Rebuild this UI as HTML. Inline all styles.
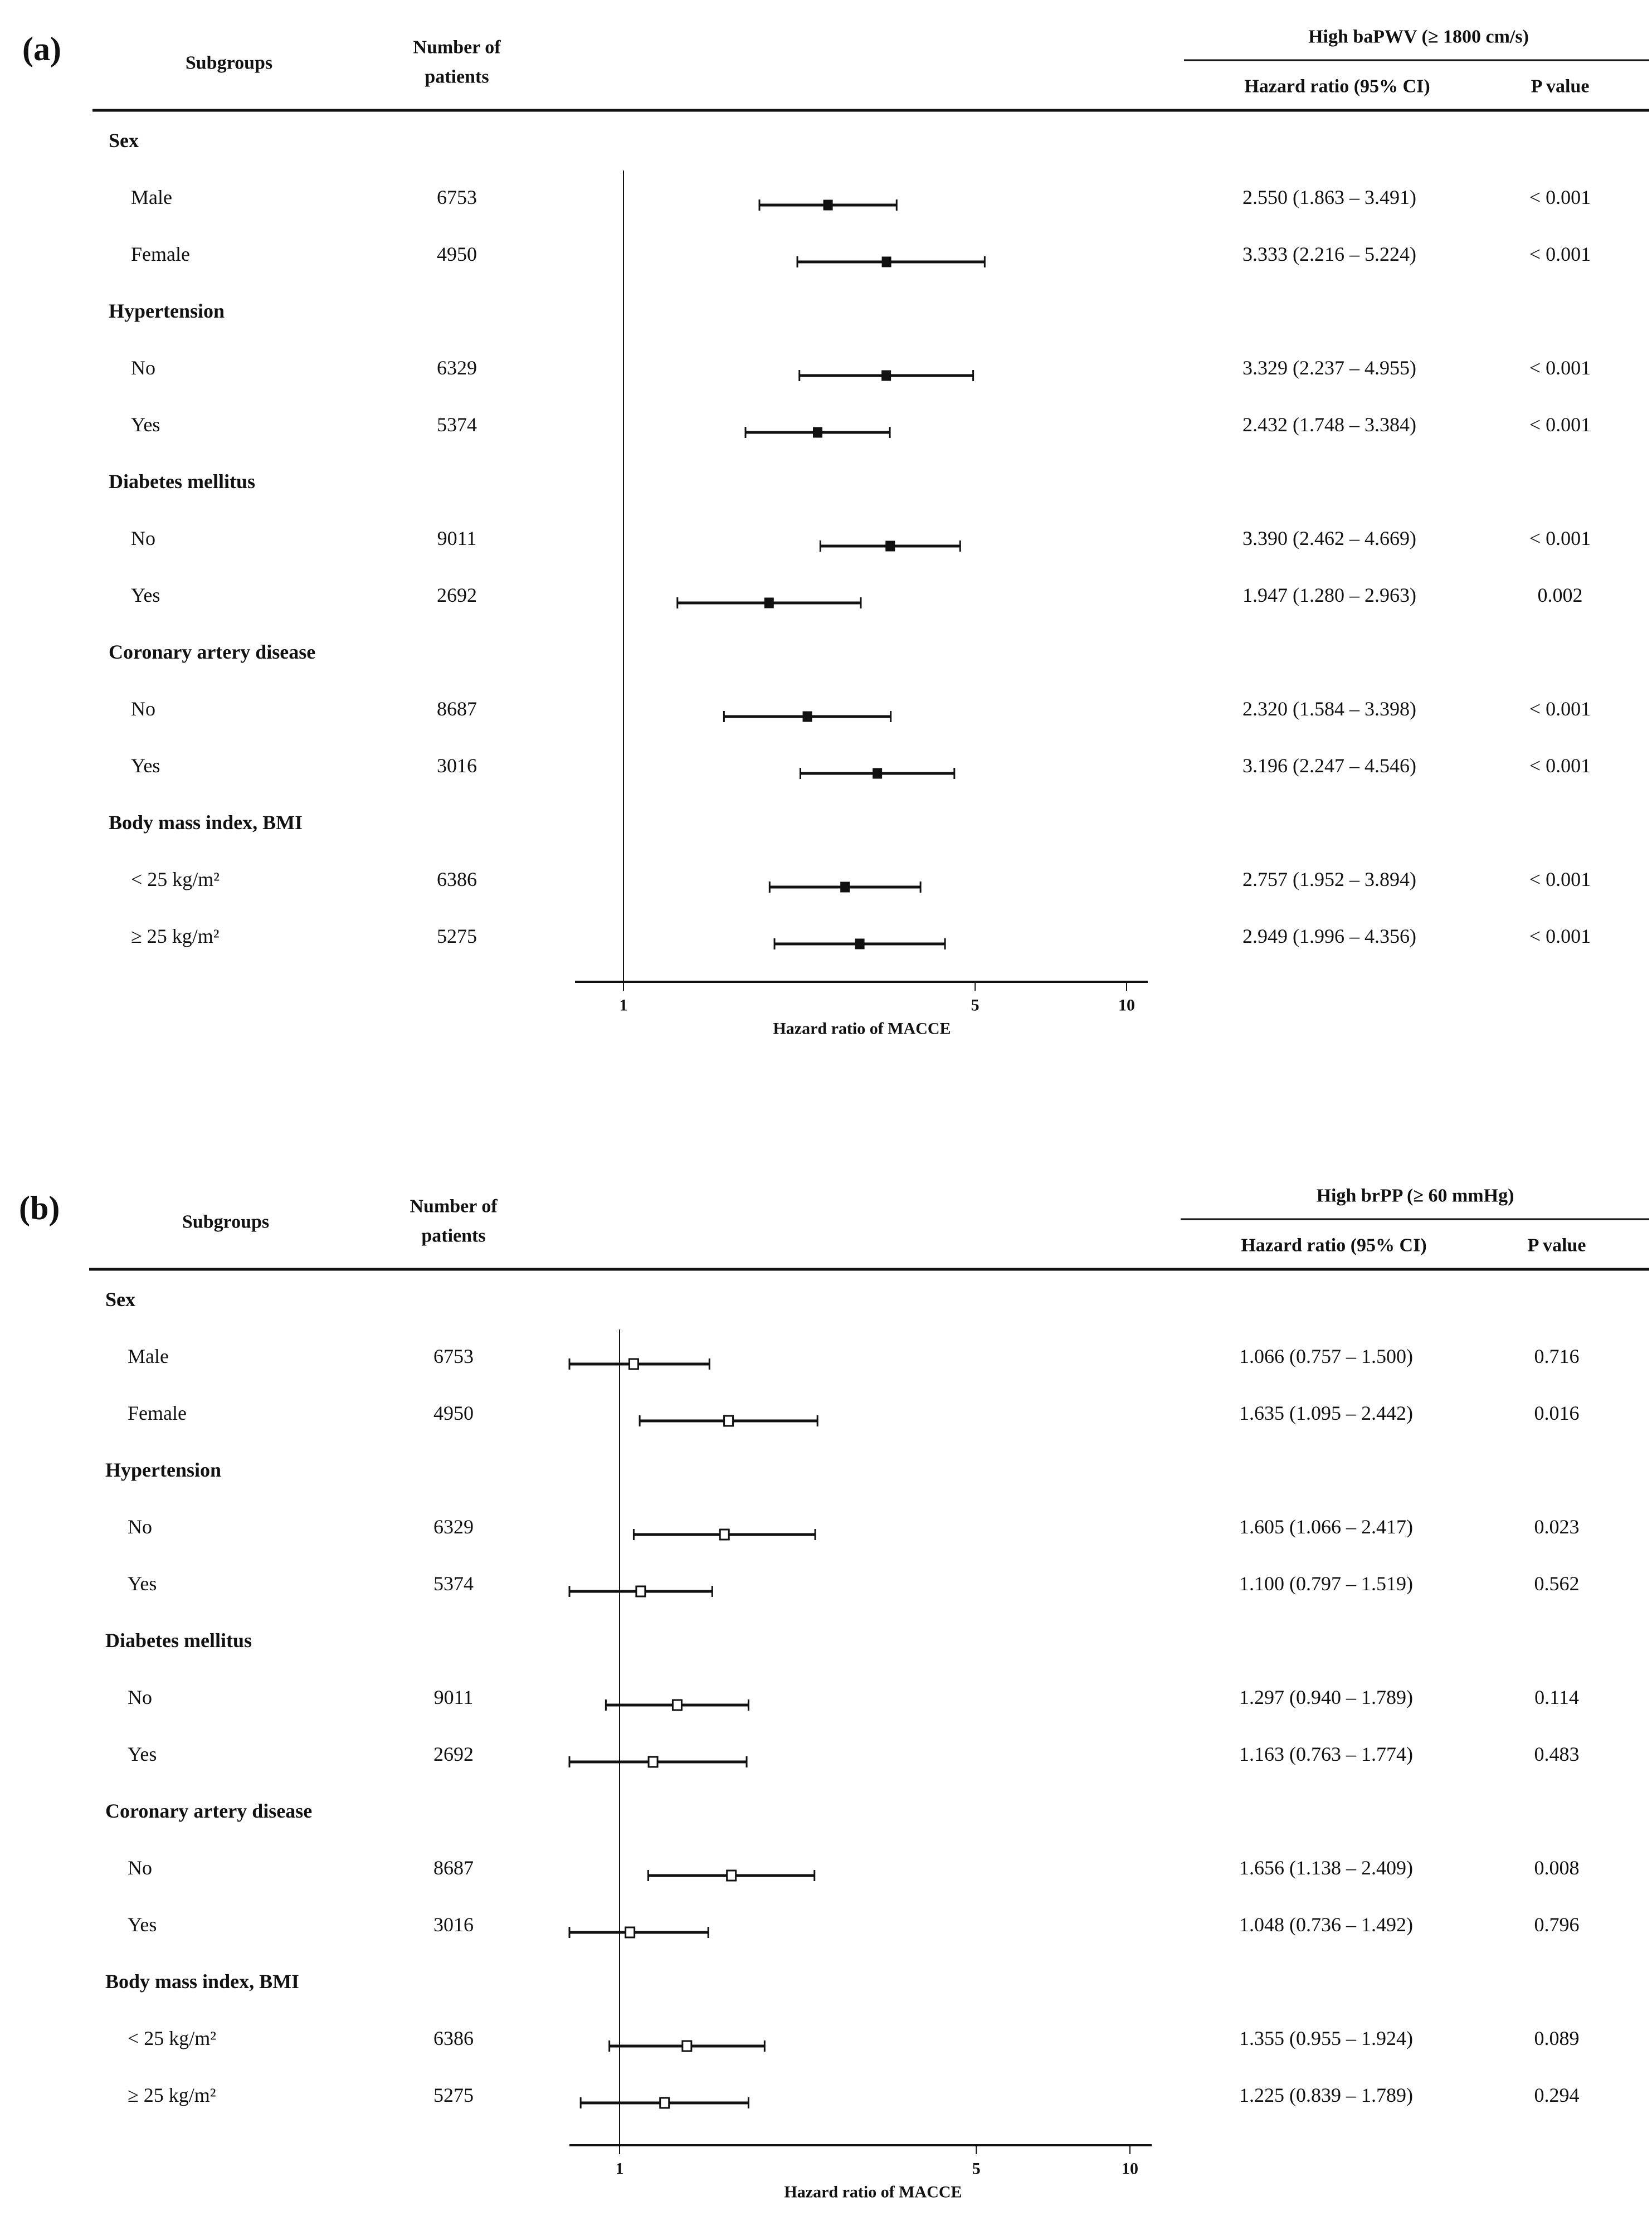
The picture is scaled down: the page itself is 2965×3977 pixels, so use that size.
<!DOCTYPE html>
<html><head><meta charset="utf-8"><style>
html,body{margin:0;padding:0;background:#fff}
svg{display:block}
text{font-family:"Liberation Serif","Times New Roman",serif;fill:#111}
.b{font-weight:bold}
</style></head><body>
<svg id="fig" width="2965" height="3977" viewBox="0 0 2965 3977" xmlns="http://www.w3.org/2000/svg"></svg>
<script>
const labels = ["Sex","Male","Female","Hypertension","No","Yes","Diabetes mellitus","No","Yes","Coronary artery disease","No","Yes","Body mass index, BMI","< 25 kg/m²","≥ 25 kg/m²"];
const isHeader = [1,0,0,1,0,0,1,0,0,1,0,0,1,0,0];
const counts = ["","6753","4950","","6329","5374","","9011","2692","","8687","3016","","6386","5275"];
const hrA = [null,2.550,3.333,null,3.329,2.432,null,3.390,1.947,null,2.320,3.196,null,2.757,2.949];
const loA = [null,1.863,2.216,null,2.237,1.748,null,2.462,1.280,null,1.584,2.247,null,1.952,1.996];
const hiA = [null,3.491,5.224,null,4.955,3.384,null,4.669,2.963,null,3.398,4.546,null,3.894,4.356];
const pA = ["","< 0.001","< 0.001","","< 0.001","< 0.001","","< 0.001","0.002","","< 0.001","< 0.001","","< 0.001","< 0.001"];
const hrB = [null,1.066,1.635,null,1.605,1.100,null,1.297,1.163,null,1.656,1.048,null,1.355,1.225];
const loB = [null,0.757,1.095,null,1.066,0.797,null,0.940,0.763,null,1.138,0.736,null,0.955,0.839];
const hiB = [null,1.500,2.442,null,2.417,1.519,null,1.789,1.774,null,2.409,1.492,null,1.924,1.789];
const pB = ["","0.716","0.016","","0.023","0.562","","0.114","0.483","","0.008","0.796","","0.089","0.294"];
const tickVals = [1,5,10];
const tickLabels = ["1","5","10"];

const svg = document.getElementById('fig');
const NS = "http://www.w3.org/2000/svg";
function mk(tag, attrs){const e=document.createElementNS(NS,tag);for(const k in attrs)e.setAttribute(k,attrs[k]);svg.appendChild(e);return e;}
function txt(x,y,s,size,cls,anchor){const t=mk('text',{x:x,y:y,'font-size':size,'text-anchor':anchor||'start','dominant-baseline':'central'});if(cls)t.setAttribute('class',cls);t.textContent=s;return t;}
function fmt(v){return v.toFixed(3);}

function panel(P){
  const oy=P.oy, dx=P.dx;
  const xs = v => P.x1 + Math.log10(v)*(P.x10-P.x1);
  const xc = v => Math.max(P.ax0, Math.min(P.ax1, xs(v)));
  const rowY = i => oy+252+i*102.0;
  let t;
  t=txt(40+dx,oy+88,P.tag,60,'b');
  
  t=txt(411+dx,oy+113,"Subgroups",34,'b','middle');
  
  t=txt(820+dx,oy+85,"Number of",34,'b','middle');
  
  t=txt(820+dx,oy+138,"patients",34,'b','middle');
  
  t=txt(2546+dx,oy+66,P.title,34,'b','middle');
  
  t=txt(2400+dx,oy+155,"Hazard ratio (95% CI)",34,'b','middle');
  
  t=txt(2800+dx,oy+155,"P value",34,'b','middle');
  
  let l=mk('line',{x1:2125+dx,x2:2960,y1:oy+108,y2:oy+108,stroke:'#111','stroke-width':3});
  
  l=mk('line',{x1:166+dx,x2:2960,y1:oy+198,y2:oy+198,stroke:'#111','stroke-width':5});
  
  l=mk('line',{x1:xs(1),x2:xs(1),y1:oy+306,y2:P.axY,stroke:'#111','stroke-width':2});
  
  l=mk('line',{x1:P.ax0,x2:P.ax1,y1:P.axY,y2:P.axY,stroke:'#111','stroke-width':4});
  
  tickVals.forEach((v,i)=>{
    const tk=mk('line',{x1:xs(v),x2:xs(v),y1:P.axY,y2:P.axY+16,stroke:'#111','stroke-width':2});
    
    
    const tl=txt(xs(v),P.axY+42,tickLabels[i],30,'b','middle');
    
    
  });
  t=txt(P.titleX,P.axY+84,"Hazard ratio of MACCE",30,'b','middle');
  
  labels.forEach((lab,i)=>{
    const y=rowY(i);
    if(isHeader[i]){
      const h=txt(195+dx,y,lab,36,'b');
      
      
      return;
    }
    const s=txt(235+dx,y,lab,36);
    
    
    const c=txt(820+dx,y,counts[i],36,null,'middle');
    
    
    const hr=P.hr[i], lo=P.lo[i], hi=P.hi[i];
    const h=txt(2386+dx,y,fmt(hr)+" ("+fmt(lo)+" – "+fmt(hi)+")",36,null,'middle');
    
    
    const p=txt(2800+dx,y,P.p[i],36,null,'middle');
    
    
    const my=y+14;
    const ci=mk('line',{x1:xc(lo),x2:xc(hi),y1:my,y2:my,stroke:'#111','stroke-width':5});
    
    
    [lo,hi].forEach(v=>{
      const cap=mk('line',{x1:xc(v),x2:xc(v),y1:my-10,y2:my+10,stroke:'#111','stroke-width':3});
      
      
    });
    const m=mk('rect',{x:xs(hr)-8,y:my-9,width:16,height:18,fill:P.open?'#fff':'#111',stroke:'#111','stroke-width':P.open?3:1});
    
    
  });
}
panel({tag:"(a)",title:"High baPWV (≥ 1800 cm/s)",oy:0,dx:0,x1:1119,x10:2022,axY:1762,ax0:1032,ax1:2060,titleX:1547,hr:hrA,lo:loA,hi:hiA,p:pA,open:false});
panel({tag:"(b)",title:"High brPP (≥ 60 mmHg)",oy:2080,dx:-6,x1:1112,x10:2028,axY:3850,ax0:1022,ax1:2067,titleX:1567,hr:hrB,lo:loB,hi:hiB,p:pB,open:true});
</script>
</body></html>
